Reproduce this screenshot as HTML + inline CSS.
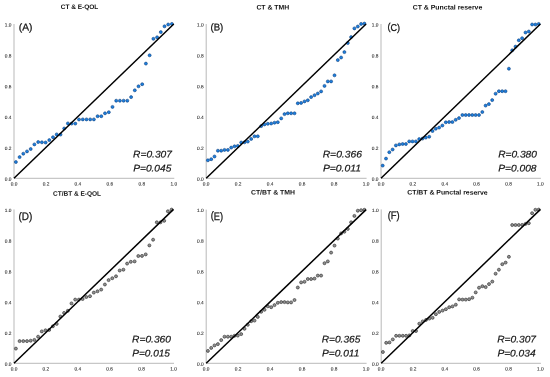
<!DOCTYPE html>
<html><head><meta charset="utf-8"><title>P-P plots</title>
<style>html,body{margin:0;padding:0;background:#fff}svg{display:block;text-rendering:geometricPrecision}
.tk{font-family:"Liberation Sans",sans-serif;font-size:4.8px;fill:#1a1a1a;stroke:#1a1a1a;stroke-width:0.06}
.tt{font-family:"Liberation Sans",sans-serif;font-weight:bold;font-size:6.6px;fill:#111}
.lb{font-family:"Liberation Sans",sans-serif;fill:#111;stroke:#111;stroke-width:0.25}
.rp{font-family:"Liberation Sans",sans-serif;font-style:italic;font-size:9.7px;fill:#151515;stroke:#151515;stroke-width:0.2}
.ax{stroke:#b9b9b9;stroke-width:1;fill:none}
.dg{stroke:#000;stroke-width:1.5;stroke-linecap:butt}
.b circle{fill:#1c80e0;stroke:#0f3f7d;stroke-width:0.6}
.g circle{fill:#909090;stroke:#333;stroke-width:0.65}
</style></head><body>
<svg width="550" height="377" viewBox="0 0 550 377">
<rect width="550" height="377" fill="#fff"/>
<g>
<path class="ax" d="M14.0 24.0V178.3H174.3"/>
<text class="tk" x="14.0" y="185.5" text-anchor="middle" transform="rotate(0.03 14.0 185.5)">0.0</text><text class="tk" x="11.5" y="180.8" text-anchor="end" transform="rotate(0.03 11.5 180.8)">0.0</text>
<text class="tk" x="46.0" y="185.5" text-anchor="middle" transform="rotate(0.03 46.0 185.5)">0.2</text><text class="tk" x="11.5" y="149.9" text-anchor="end" transform="rotate(0.03 11.5 149.9)">0.2</text>
<text class="tk" x="77.9" y="185.5" text-anchor="middle" transform="rotate(0.03 77.9 185.5)">0.4</text><text class="tk" x="11.5" y="119.1" text-anchor="end" transform="rotate(0.03 11.5 119.1)">0.4</text>
<text class="tk" x="109.9" y="185.5" text-anchor="middle" transform="rotate(0.03 109.9 185.5)">0.6</text><text class="tk" x="11.5" y="88.2" text-anchor="end" transform="rotate(0.03 11.5 88.2)">0.6</text>
<text class="tk" x="141.8" y="185.5" text-anchor="middle" transform="rotate(0.03 141.8 185.5)">0.8</text><text class="tk" x="11.5" y="57.4" text-anchor="end" transform="rotate(0.03 11.5 57.4)">0.8</text>
<text class="tk" x="173.8" y="185.5" text-anchor="middle" transform="rotate(0.03 173.8 185.5)">1.0</text><text class="tk" x="11.5" y="26.5" text-anchor="end" transform="rotate(0.03 11.5 26.5)">1.0</text>
<g class="b"><circle cx="15.9" cy="162.0" r="1.5"/><circle cx="19.6" cy="157.1" r="1.5"/><circle cx="23.3" cy="153.7" r="1.5"/><circle cx="27.0" cy="151.4" r="1.5"/><circle cx="30.7" cy="149.0" r="1.5"/><circle cx="34.4" cy="144.4" r="1.5"/><circle cx="38.2" cy="142.0" r="1.5"/><circle cx="41.9" cy="142.3" r="1.5"/><circle cx="45.6" cy="142.5" r="1.5"/><circle cx="49.3" cy="140.1" r="1.5"/><circle cx="53.0" cy="137.2" r="1.5"/><circle cx="56.7" cy="134.4" r="1.5"/><circle cx="60.5" cy="134.6" r="1.5"/><circle cx="64.2" cy="128.5" r="1.5"/><circle cx="67.9" cy="123.4" r="1.5"/><circle cx="71.6" cy="123.6" r="1.5"/><circle cx="75.3" cy="123.6" r="1.5"/><circle cx="79.0" cy="119.5" r="1.5"/><circle cx="82.8" cy="119.4" r="1.5"/><circle cx="86.5" cy="119.4" r="1.5"/><circle cx="90.2" cy="119.4" r="1.5"/><circle cx="93.9" cy="119.4" r="1.5"/><circle cx="97.6" cy="116.2" r="1.5"/><circle cx="101.3" cy="116.2" r="1.5"/><circle cx="105.0" cy="113.3" r="1.5"/><circle cx="108.8" cy="112.2" r="1.5"/><circle cx="112.5" cy="106.9" r="1.5"/><circle cx="116.2" cy="100.7" r="1.5"/><circle cx="119.9" cy="100.7" r="1.5"/><circle cx="123.6" cy="100.7" r="1.5"/><circle cx="127.3" cy="100.7" r="1.5"/><circle cx="131.1" cy="97.1" r="1.5"/><circle cx="134.8" cy="90.3" r="1.5"/><circle cx="138.5" cy="86.3" r="1.5"/><circle cx="142.2" cy="84.2" r="1.5"/><circle cx="145.9" cy="63.6" r="1.5"/><circle cx="149.6" cy="55.3" r="1.5"/><circle cx="153.4" cy="38.8" r="1.5"/><circle cx="157.1" cy="37.3" r="1.5"/><circle cx="160.8" cy="32.1" r="1.5"/><circle cx="164.5" cy="26.3" r="1.5"/><circle cx="168.2" cy="24.5" r="1.5"/><circle cx="171.9" cy="23.9" r="1.5"/></g>
<line class="dg" x1="14.0" y1="178.3" x2="173.8" y2="24.0"/>
<text class="tt" x="60.7" y="8.9" textLength="37.6" lengthAdjust="spacingAndGlyphs" transform="rotate(0.03 60.7 8.9)">CT &amp; E-QOL</text>
<text class="lb" font-size="9.9" x="18.8" y="30.5" textLength="13.6" lengthAdjust="spacingAndGlyphs" transform="rotate(0.03 18.8 30.5)">(A)</text>
<text class="rp" x="133.1" y="157.6" textLength="38.8" lengthAdjust="spacingAndGlyphs" transform="rotate(0.03 133.1 157.6)">R=0.307</text>
<text class="rp" x="133.2" y="171.6" textLength="38.1" lengthAdjust="spacingAndGlyphs" transform="rotate(0.03 133.2 171.6)">P=0.045</text>
</g>
<g>
<path class="ax" d="M206.2 24.0V178.3H366.6"/>
<text class="tk" x="206.2" y="185.5" text-anchor="middle" transform="rotate(0.03 206.2 185.5)">0.0</text><text class="tk" x="203.7" y="180.8" text-anchor="end" transform="rotate(0.03 203.7 180.8)">0.0</text>
<text class="tk" x="238.2" y="185.5" text-anchor="middle" transform="rotate(0.03 238.2 185.5)">0.2</text><text class="tk" x="203.7" y="149.9" text-anchor="end" transform="rotate(0.03 203.7 149.9)">0.2</text>
<text class="tk" x="270.2" y="185.5" text-anchor="middle" transform="rotate(0.03 270.2 185.5)">0.4</text><text class="tk" x="203.7" y="119.1" text-anchor="end" transform="rotate(0.03 203.7 119.1)">0.4</text>
<text class="tk" x="302.1" y="185.5" text-anchor="middle" transform="rotate(0.03 302.1 185.5)">0.6</text><text class="tk" x="203.7" y="88.2" text-anchor="end" transform="rotate(0.03 203.7 88.2)">0.6</text>
<text class="tk" x="334.1" y="185.5" text-anchor="middle" transform="rotate(0.03 334.1 185.5)">0.8</text><text class="tk" x="203.7" y="57.4" text-anchor="end" transform="rotate(0.03 203.7 57.4)">0.8</text>
<text class="tk" x="366.1" y="185.5" text-anchor="middle" transform="rotate(0.03 366.1 185.5)">1.0</text><text class="tk" x="203.7" y="26.5" text-anchor="end" transform="rotate(0.03 203.7 26.5)">1.0</text>
<g class="b"><circle cx="207.9" cy="160.3" r="1.5"/><circle cx="211.2" cy="159.2" r="1.5"/><circle cx="214.5" cy="156.5" r="1.5"/><circle cx="217.9" cy="150.7" r="1.5"/><circle cx="221.2" cy="150.7" r="1.5"/><circle cx="224.5" cy="149.9" r="1.5"/><circle cx="227.9" cy="149.9" r="1.5"/><circle cx="231.2" cy="147.6" r="1.5"/><circle cx="234.5" cy="146.3" r="1.5"/><circle cx="237.8" cy="145.9" r="1.5"/><circle cx="241.2" cy="142.5" r="1.5"/><circle cx="244.5" cy="142.3" r="1.5"/><circle cx="247.8" cy="141.6" r="1.5"/><circle cx="251.2" cy="138.9" r="1.5"/><circle cx="254.5" cy="136.3" r="1.5"/><circle cx="257.8" cy="136.3" r="1.5"/><circle cx="261.2" cy="126.1" r="1.5"/><circle cx="264.5" cy="124.4" r="1.5"/><circle cx="267.8" cy="123.8" r="1.5"/><circle cx="271.2" cy="123.5" r="1.5"/><circle cx="274.5" cy="122.7" r="1.5"/><circle cx="277.8" cy="122.2" r="1.5"/><circle cx="281.2" cy="118.4" r="1.5"/><circle cx="284.5" cy="114.1" r="1.5"/><circle cx="287.8" cy="113.3" r="1.5"/><circle cx="291.1" cy="113.3" r="1.5"/><circle cx="294.5" cy="113.3" r="1.5"/><circle cx="297.8" cy="103.3" r="1.5"/><circle cx="301.1" cy="102.9" r="1.5"/><circle cx="304.5" cy="101.4" r="1.5"/><circle cx="307.8" cy="100.3" r="1.5"/><circle cx="311.1" cy="97.1" r="1.5"/><circle cx="314.5" cy="95.2" r="1.5"/><circle cx="317.8" cy="93.5" r="1.5"/><circle cx="321.1" cy="91.4" r="1.5"/><circle cx="324.5" cy="85.9" r="1.5"/><circle cx="327.8" cy="81.4" r="1.5"/><circle cx="331.1" cy="81.4" r="1.5"/><circle cx="334.5" cy="75.3" r="1.5"/><circle cx="337.8" cy="60.1" r="1.5"/><circle cx="341.1" cy="57.5" r="1.5"/><circle cx="344.4" cy="52.1" r="1.5"/><circle cx="347.8" cy="43.0" r="1.5"/><circle cx="351.1" cy="37.1" r="1.5"/><circle cx="354.4" cy="28.4" r="1.5"/><circle cx="357.8" cy="26.5" r="1.5"/><circle cx="361.1" cy="23.9" r="1.5"/><circle cx="364.4" cy="23.6" r="1.5"/></g>
<line class="dg" x1="206.2" y1="178.3" x2="366.1" y2="24.0"/>
<text class="tt" x="256.4" y="9.4" textLength="32.9" lengthAdjust="spacingAndGlyphs" transform="rotate(0.03 256.4 9.4)">CT &amp; TMH</text>
<text class="lb" font-size="9.9" x="210.5" y="30.5" textLength="12.8" lengthAdjust="spacingAndGlyphs" transform="rotate(0.03 210.5 30.5)">(B)</text>
<text class="rp" x="322.7" y="157.6" textLength="39.2" lengthAdjust="spacingAndGlyphs" transform="rotate(0.03 322.7 157.6)">R=0.366</text>
<text class="rp" x="322.9" y="171.6" textLength="38.0" lengthAdjust="spacingAndGlyphs" transform="rotate(0.03 322.9 171.6)">P=0.011</text>
</g>
<g>
<path class="ax" d="M381.0 24.0V178.3H540.9"/>
<text class="tk" x="381.0" y="185.5" text-anchor="middle" transform="rotate(0.03 381.0 185.5)">0.0</text><text class="tk" x="378.5" y="180.8" text-anchor="end" transform="rotate(0.03 378.5 180.8)">0.0</text>
<text class="tk" x="412.9" y="185.5" text-anchor="middle" transform="rotate(0.03 412.9 185.5)">0.2</text><text class="tk" x="378.5" y="149.9" text-anchor="end" transform="rotate(0.03 378.5 149.9)">0.2</text>
<text class="tk" x="444.8" y="185.5" text-anchor="middle" transform="rotate(0.03 444.8 185.5)">0.4</text><text class="tk" x="378.5" y="119.1" text-anchor="end" transform="rotate(0.03 378.5 119.1)">0.4</text>
<text class="tk" x="476.6" y="185.5" text-anchor="middle" transform="rotate(0.03 476.6 185.5)">0.6</text><text class="tk" x="378.5" y="88.2" text-anchor="end" transform="rotate(0.03 378.5 88.2)">0.6</text>
<text class="tk" x="508.5" y="185.5" text-anchor="middle" transform="rotate(0.03 508.5 185.5)">0.8</text><text class="tk" x="378.5" y="57.4" text-anchor="end" transform="rotate(0.03 378.5 57.4)">0.8</text>
<text class="tk" x="540.4" y="185.5" text-anchor="middle" transform="rotate(0.03 540.4 185.5)">1.0</text><text class="tk" x="378.5" y="26.5" text-anchor="end" transform="rotate(0.03 378.5 26.5)">1.0</text>
<g class="b"><circle cx="382.7" cy="165.6" r="1.5"/><circle cx="386.0" cy="158.6" r="1.5"/><circle cx="389.3" cy="152.2" r="1.5"/><circle cx="392.6" cy="149.5" r="1.5"/><circle cx="395.9" cy="145.4" r="1.5"/><circle cx="399.3" cy="144.4" r="1.5"/><circle cx="402.6" cy="144.0" r="1.5"/><circle cx="405.9" cy="144.0" r="1.5"/><circle cx="409.2" cy="141.4" r="1.5"/><circle cx="412.5" cy="141.4" r="1.5"/><circle cx="415.9" cy="141.4" r="1.5"/><circle cx="419.2" cy="139.1" r="1.5"/><circle cx="422.5" cy="138.6" r="1.5"/><circle cx="425.8" cy="137.6" r="1.5"/><circle cx="429.2" cy="136.7" r="1.5"/><circle cx="432.5" cy="131.0" r="1.5"/><circle cx="435.8" cy="128.7" r="1.5"/><circle cx="439.1" cy="127.6" r="1.5"/><circle cx="442.4" cy="125.5" r="1.5"/><circle cx="445.8" cy="122.3" r="1.5"/><circle cx="449.1" cy="122.0" r="1.5"/><circle cx="452.4" cy="122.0" r="1.5"/><circle cx="455.7" cy="119.8" r="1.5"/><circle cx="459.0" cy="118.1" r="1.5"/><circle cx="462.4" cy="115.0" r="1.5"/><circle cx="465.7" cy="115.0" r="1.5"/><circle cx="469.0" cy="115.0" r="1.5"/><circle cx="472.3" cy="115.0" r="1.5"/><circle cx="475.6" cy="115.0" r="1.5"/><circle cx="479.0" cy="115.0" r="1.5"/><circle cx="482.3" cy="112.0" r="1.5"/><circle cx="485.6" cy="105.6" r="1.5"/><circle cx="488.9" cy="104.1" r="1.5"/><circle cx="492.2" cy="100.1" r="1.5"/><circle cx="495.6" cy="93.7" r="1.5"/><circle cx="498.9" cy="91.2" r="1.5"/><circle cx="502.2" cy="91.2" r="1.5"/><circle cx="505.5" cy="91.2" r="1.5"/><circle cx="508.9" cy="68.7" r="1.5"/><circle cx="512.2" cy="50.3" r="1.5"/><circle cx="515.5" cy="46.6" r="1.5"/><circle cx="518.8" cy="40.3" r="1.5"/><circle cx="522.1" cy="38.2" r="1.5"/><circle cx="525.5" cy="32.5" r="1.5"/><circle cx="528.8" cy="31.5" r="1.5"/><circle cx="532.1" cy="24.5" r="1.5"/><circle cx="535.4" cy="24.5" r="1.5"/><circle cx="538.7" cy="23.9" r="1.5"/></g>
<line class="dg" x1="381.0" y1="178.3" x2="540.4" y2="24.0"/>
<text class="tt" x="412.7" y="9.4" textLength="69.6" lengthAdjust="spacingAndGlyphs" transform="rotate(0.03 412.7 9.4)">CT &amp; Punctal reserve</text>
<text class="lb" font-size="9.9" x="387.4" y="30.5" textLength="12.7" lengthAdjust="spacingAndGlyphs" transform="rotate(0.03 387.4 30.5)">(C)</text>
<text class="rp" x="498.2" y="157.6" textLength="38.7" lengthAdjust="spacingAndGlyphs" transform="rotate(0.03 498.2 157.6)">R=0.380</text>
<text class="rp" x="498.3" y="171.6" textLength="38.2" lengthAdjust="spacingAndGlyphs" transform="rotate(0.03 498.3 171.6)">P=0.008</text>
</g>
<g>
<path class="ax" d="M14.0 209.4V363.3H174.0"/>
<text class="tk" x="14.0" y="370.5" text-anchor="middle" transform="rotate(0.03 14.0 370.5)">0.0</text><text class="tk" x="11.5" y="365.8" text-anchor="end" transform="rotate(0.03 11.5 365.8)">0.0</text>
<text class="tk" x="45.9" y="370.5" text-anchor="middle" transform="rotate(0.03 45.9 370.5)">0.2</text><text class="tk" x="11.5" y="335.0" text-anchor="end" transform="rotate(0.03 11.5 335.0)">0.2</text>
<text class="tk" x="77.8" y="370.5" text-anchor="middle" transform="rotate(0.03 77.8 370.5)">0.4</text><text class="tk" x="11.5" y="304.2" text-anchor="end" transform="rotate(0.03 11.5 304.2)">0.4</text>
<text class="tk" x="109.7" y="370.5" text-anchor="middle" transform="rotate(0.03 109.7 370.5)">0.6</text><text class="tk" x="11.5" y="273.5" text-anchor="end" transform="rotate(0.03 11.5 273.5)">0.6</text>
<text class="tk" x="141.6" y="370.5" text-anchor="middle" transform="rotate(0.03 141.6 370.5)">0.8</text><text class="tk" x="11.5" y="242.7" text-anchor="end" transform="rotate(0.03 11.5 242.7)">0.8</text>
<text class="tk" x="173.5" y="370.5" text-anchor="middle" transform="rotate(0.03 173.5 370.5)">1.0</text><text class="tk" x="11.5" y="211.9" text-anchor="end" transform="rotate(0.03 11.5 211.9)">1.0</text>
<g class="g"><circle cx="15.9" cy="348.6" r="1.5"/><circle cx="19.6" cy="341.1" r="1.5"/><circle cx="23.3" cy="341.1" r="1.5"/><circle cx="27.0" cy="341.1" r="1.5"/><circle cx="30.7" cy="340.7" r="1.5"/><circle cx="34.4" cy="339.9" r="1.5"/><circle cx="38.1" cy="336.7" r="1.5"/><circle cx="41.8" cy="331.4" r="1.5"/><circle cx="45.5" cy="330.3" r="1.5"/><circle cx="49.2" cy="329.9" r="1.5"/><circle cx="52.9" cy="326.3" r="1.5"/><circle cx="56.7" cy="323.9" r="1.5"/><circle cx="60.4" cy="316.5" r="1.5"/><circle cx="64.1" cy="312.9" r="1.5"/><circle cx="67.8" cy="310.8" r="1.5"/><circle cx="71.5" cy="303.4" r="1.5"/><circle cx="75.2" cy="299.6" r="1.5"/><circle cx="78.9" cy="299.6" r="1.5"/><circle cx="82.6" cy="299.0" r="1.5"/><circle cx="86.3" cy="297.0" r="1.5"/><circle cx="90.0" cy="296.2" r="1.5"/><circle cx="93.8" cy="292.6" r="1.5"/><circle cx="97.5" cy="291.3" r="1.5"/><circle cx="101.2" cy="289.6" r="1.5"/><circle cx="104.9" cy="284.5" r="1.5"/><circle cx="108.6" cy="280.1" r="1.5"/><circle cx="112.3" cy="278.2" r="1.5"/><circle cx="116.0" cy="276.3" r="1.5"/><circle cx="119.7" cy="270.5" r="1.5"/><circle cx="123.4" cy="269.7" r="1.5"/><circle cx="127.1" cy="263.6" r="1.5"/><circle cx="130.8" cy="261.8" r="1.5"/><circle cx="134.6" cy="261.4" r="1.5"/><circle cx="138.3" cy="256.0" r="1.5"/><circle cx="142.0" cy="255.9" r="1.5"/><circle cx="145.7" cy="254.4" r="1.5"/><circle cx="149.4" cy="245.4" r="1.5"/><circle cx="153.1" cy="239.7" r="1.5"/><circle cx="156.8" cy="222.3" r="1.5"/><circle cx="160.5" cy="222.3" r="1.5"/><circle cx="164.2" cy="220.8" r="1.5"/><circle cx="167.9" cy="211.3" r="1.5"/><circle cx="171.6" cy="209.6" r="1.5"/></g>
<line class="dg" x1="14.0" y1="363.3" x2="173.5" y2="209.4"/>
<text class="tt" x="53.1" y="195.7" textLength="48.0" lengthAdjust="spacingAndGlyphs" transform="rotate(0.03 53.1 195.7)">CT/BT &amp; E-QOL</text>
<text class="lb" font-size="10.9" x="18.5" y="219.5" textLength="13.9" lengthAdjust="spacingAndGlyphs" transform="rotate(0.03 18.5 219.5)">(D)</text>
<text class="rp" x="132.1" y="342.4" textLength="38.8" lengthAdjust="spacingAndGlyphs" transform="rotate(0.03 132.1 342.4)">R=0.360</text>
<text class="rp" x="132.2" y="356.6" textLength="37.8" lengthAdjust="spacingAndGlyphs" transform="rotate(0.03 132.2 356.6)">P=0.015</text>
</g>
<g>
<path class="ax" d="M206.2 209.6V363.3H366.6"/>
<text class="tk" x="206.2" y="370.5" text-anchor="middle" transform="rotate(0.03 206.2 370.5)">0.0</text><text class="tk" x="203.7" y="365.8" text-anchor="end" transform="rotate(0.03 203.7 365.8)">0.0</text>
<text class="tk" x="238.2" y="370.5" text-anchor="middle" transform="rotate(0.03 238.2 370.5)">0.2</text><text class="tk" x="203.7" y="335.1" text-anchor="end" transform="rotate(0.03 203.7 335.1)">0.2</text>
<text class="tk" x="270.2" y="370.5" text-anchor="middle" transform="rotate(0.03 270.2 370.5)">0.4</text><text class="tk" x="203.7" y="304.3" text-anchor="end" transform="rotate(0.03 203.7 304.3)">0.4</text>
<text class="tk" x="302.1" y="370.5" text-anchor="middle" transform="rotate(0.03 302.1 370.5)">0.6</text><text class="tk" x="203.7" y="273.6" text-anchor="end" transform="rotate(0.03 203.7 273.6)">0.6</text>
<text class="tk" x="334.1" y="370.5" text-anchor="middle" transform="rotate(0.03 334.1 370.5)">0.8</text><text class="tk" x="203.7" y="242.8" text-anchor="end" transform="rotate(0.03 203.7 242.8)">0.8</text>
<text class="tk" x="366.1" y="370.5" text-anchor="middle" transform="rotate(0.03 366.1 370.5)">1.0</text><text class="tk" x="203.7" y="212.1" text-anchor="end" transform="rotate(0.03 203.7 212.1)">1.0</text>
<g class="g"><circle cx="207.9" cy="350.9" r="1.5"/><circle cx="211.2" cy="347.9" r="1.5"/><circle cx="214.5" cy="345.4" r="1.5"/><circle cx="217.9" cy="344.1" r="1.5"/><circle cx="221.2" cy="340.1" r="1.5"/><circle cx="224.5" cy="336.7" r="1.5"/><circle cx="227.9" cy="336.7" r="1.5"/><circle cx="231.2" cy="336.7" r="1.5"/><circle cx="234.5" cy="335.8" r="1.5"/><circle cx="237.8" cy="335.6" r="1.5"/><circle cx="241.2" cy="334.1" r="1.5"/><circle cx="244.5" cy="328.8" r="1.5"/><circle cx="247.8" cy="324.8" r="1.5"/><circle cx="251.2" cy="321.2" r="1.5"/><circle cx="254.5" cy="320.6" r="1.5"/><circle cx="257.8" cy="316.9" r="1.5"/><circle cx="261.2" cy="311.8" r="1.5"/><circle cx="264.5" cy="309.8" r="1.5"/><circle cx="267.8" cy="306.3" r="1.5"/><circle cx="271.2" cy="307.2" r="1.5"/><circle cx="274.5" cy="305.1" r="1.5"/><circle cx="277.8" cy="302.8" r="1.5"/><circle cx="281.2" cy="302.1" r="1.5"/><circle cx="284.5" cy="302.1" r="1.5"/><circle cx="287.8" cy="302.4" r="1.5"/><circle cx="291.1" cy="302.4" r="1.5"/><circle cx="294.5" cy="300.0" r="1.5"/><circle cx="297.8" cy="287.5" r="1.5"/><circle cx="301.1" cy="282.4" r="1.5"/><circle cx="304.5" cy="281.8" r="1.5"/><circle cx="307.8" cy="279.0" r="1.5"/><circle cx="311.1" cy="279.0" r="1.5"/><circle cx="314.5" cy="278.6" r="1.5"/><circle cx="317.8" cy="275.6" r="1.5"/><circle cx="321.1" cy="275.6" r="1.5"/><circle cx="324.5" cy="263.2" r="1.5"/><circle cx="327.8" cy="261.4" r="1.5"/><circle cx="331.1" cy="252.6" r="1.5"/><circle cx="334.5" cy="245.6" r="1.5"/><circle cx="337.8" cy="238.6" r="1.5"/><circle cx="341.1" cy="233.4" r="1.5"/><circle cx="344.4" cy="231.7" r="1.5"/><circle cx="347.8" cy="228.9" r="1.5"/><circle cx="351.1" cy="222.3" r="1.5"/><circle cx="354.4" cy="215.9" r="1.5"/><circle cx="357.8" cy="210.7" r="1.5"/><circle cx="361.1" cy="210.2" r="1.5"/><circle cx="364.4" cy="209.8" r="1.5"/></g>
<line class="dg" x1="206.2" y1="363.3" x2="366.1" y2="209.6"/>
<text class="tt" x="250.9" y="194.4" textLength="44.1" lengthAdjust="spacingAndGlyphs" transform="rotate(0.03 250.9 194.4)">CT/BT &amp; TMH</text>
<text class="lb" font-size="10.9" x="210.7" y="219.5" textLength="12.4" lengthAdjust="spacingAndGlyphs" transform="rotate(0.03 210.7 219.5)">(E)</text>
<text class="rp" x="321.8" y="342.4" textLength="38.5" lengthAdjust="spacingAndGlyphs" transform="rotate(0.03 321.8 342.4)">R=0.365</text>
<text class="rp" x="322.0" y="356.6" textLength="37.4" lengthAdjust="spacingAndGlyphs" transform="rotate(0.03 322.0 356.6)">P=0.011</text>
</g>
<g>
<path class="ax" d="M381.2 209.4V363.3H540.9"/>
<text class="tk" x="381.2" y="370.5" text-anchor="middle" transform="rotate(0.03 381.2 370.5)">0.0</text><text class="tk" x="378.7" y="365.8" text-anchor="end" transform="rotate(0.03 378.7 365.8)">0.0</text>
<text class="tk" x="413.0" y="370.5" text-anchor="middle" transform="rotate(0.03 413.0 370.5)">0.2</text><text class="tk" x="378.7" y="335.0" text-anchor="end" transform="rotate(0.03 378.7 335.0)">0.2</text>
<text class="tk" x="444.9" y="370.5" text-anchor="middle" transform="rotate(0.03 444.9 370.5)">0.4</text><text class="tk" x="378.7" y="304.2" text-anchor="end" transform="rotate(0.03 378.7 304.2)">0.4</text>
<text class="tk" x="476.7" y="370.5" text-anchor="middle" transform="rotate(0.03 476.7 370.5)">0.6</text><text class="tk" x="378.7" y="273.5" text-anchor="end" transform="rotate(0.03 378.7 273.5)">0.6</text>
<text class="tk" x="508.6" y="370.5" text-anchor="middle" transform="rotate(0.03 508.6 370.5)">0.8</text><text class="tk" x="378.7" y="242.7" text-anchor="end" transform="rotate(0.03 378.7 242.7)">0.8</text>
<text class="tk" x="540.4" y="370.5" text-anchor="middle" transform="rotate(0.03 540.4 370.5)">1.0</text><text class="tk" x="378.7" y="211.9" text-anchor="end" transform="rotate(0.03 378.7 211.9)">1.0</text>
<g class="g"><circle cx="382.9" cy="352.0" r="1.5"/><circle cx="386.2" cy="342.8" r="1.5"/><circle cx="389.5" cy="342.4" r="1.5"/><circle cx="392.8" cy="339.4" r="1.5"/><circle cx="396.1" cy="335.8" r="1.5"/><circle cx="399.4" cy="335.8" r="1.5"/><circle cx="402.8" cy="335.8" r="1.5"/><circle cx="406.1" cy="335.8" r="1.5"/><circle cx="409.4" cy="335.4" r="1.5"/><circle cx="412.7" cy="331.0" r="1.5"/><circle cx="416.0" cy="331.0" r="1.5"/><circle cx="419.3" cy="323.7" r="1.5"/><circle cx="422.7" cy="321.4" r="1.5"/><circle cx="426.0" cy="319.9" r="1.5"/><circle cx="429.3" cy="318.6" r="1.5"/><circle cx="432.6" cy="317.8" r="1.5"/><circle cx="435.9" cy="314.2" r="1.5"/><circle cx="439.2" cy="311.9" r="1.5"/><circle cx="442.6" cy="310.6" r="1.5"/><circle cx="445.9" cy="309.2" r="1.5"/><circle cx="449.2" cy="307.2" r="1.5"/><circle cx="452.5" cy="306.4" r="1.5"/><circle cx="455.8" cy="304.7" r="1.5"/><circle cx="459.1" cy="299.4" r="1.5"/><circle cx="462.5" cy="299.6" r="1.5"/><circle cx="465.8" cy="299.6" r="1.5"/><circle cx="469.1" cy="299.2" r="1.5"/><circle cx="472.4" cy="297.7" r="1.5"/><circle cx="475.7" cy="292.4" r="1.5"/><circle cx="479.0" cy="287.7" r="1.5"/><circle cx="482.4" cy="286.2" r="1.5"/><circle cx="485.7" cy="287.1" r="1.5"/><circle cx="489.0" cy="284.1" r="1.5"/><circle cx="492.3" cy="281.6" r="1.5"/><circle cx="495.6" cy="273.7" r="1.5"/><circle cx="498.9" cy="269.7" r="1.5"/><circle cx="502.3" cy="264.2" r="1.5"/><circle cx="505.6" cy="262.6" r="1.5"/><circle cx="508.9" cy="256.8" r="1.5"/><circle cx="512.2" cy="225.0" r="1.5"/><circle cx="515.5" cy="225.0" r="1.5"/><circle cx="518.8" cy="225.0" r="1.5"/><circle cx="522.2" cy="224.9" r="1.5"/><circle cx="525.5" cy="223.9" r="1.5"/><circle cx="528.8" cy="223.2" r="1.5"/><circle cx="532.1" cy="213.2" r="1.5"/><circle cx="535.4" cy="209.8" r="1.5"/><circle cx="538.7" cy="209.6" r="1.5"/></g>
<line class="dg" x1="381.2" y1="363.3" x2="540.4" y2="209.4"/>
<text class="tt" x="407.2" y="194.6" textLength="80.5" lengthAdjust="spacingAndGlyphs" transform="rotate(0.03 407.2 194.6)">CT/BT &amp; Punctal reserve</text>
<text class="lb" font-size="10.9" x="387.7" y="219.3" textLength="12.0" lengthAdjust="spacingAndGlyphs" transform="rotate(0.03 387.7 219.3)">(F)</text>
<text class="rp" x="497.2" y="342.4" textLength="38.8" lengthAdjust="spacingAndGlyphs" transform="rotate(0.03 497.2 342.4)">R=0.307</text>
<text class="rp" x="497.4" y="356.6" textLength="38.2" lengthAdjust="spacingAndGlyphs" transform="rotate(0.03 497.4 356.6)">P=0.034</text>
</g>
</svg>
</body></html>
